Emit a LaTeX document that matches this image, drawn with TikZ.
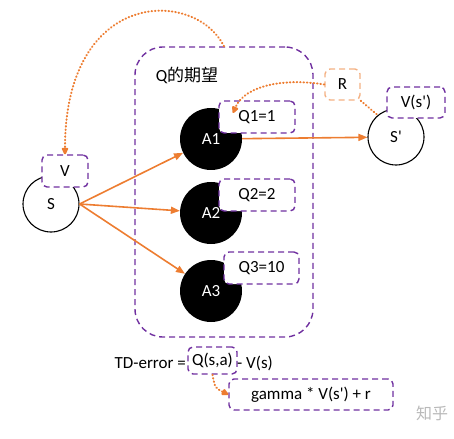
\documentclass[tikz,border=0pt]{standalone}
\usepackage{fontspec}
\setmainfont{Carlito}
\newfontfamily\cjk{Noto Sans CJK SC}
\usetikzlibrary{arrows.meta}
\definecolor{myorange}{HTML}{ED7D31}
\definecolor{mypurple}{HTML}{7030A0}
\definecolor{mypeach}{HTML}{F4B183}
\begin{document}
\begin{tikzpicture}[x=1pt,y=-1pt,
  font=\fontsize{17}{20}\selectfont,
  pbox/.style={draw=mypurple, line width=1.4pt, dash pattern=on 6pt off 4pt, rounded corners=5pt, fill=white, inner sep=0pt},
  act/.style={circle, fill=black, text=white, minimum size=62pt, inner sep=0pt},
  st/.style={circle, draw=black, line width=1.1pt, minimum size=56pt, inner sep=0pt},
  oarr/.style={draw=myorange, line width=1.6pt, -{Triangle[length=9pt,width=7pt]}},
  odot/.style={draw=myorange, line width=2pt, dash pattern=on 0.6pt off 2.8pt, line cap=round},
  dtip/.style={-{Triangle[length=8pt,width=7pt,round]}},
  txt/.style={inner sep=0pt},
]
\useasboundingbox (0,0) rectangle (454,438);

\node[draw=mypurple, line width=1.4pt, dash pattern=on 6pt off 4pt, rounded corners=28pt, minimum width=178pt, minimum height=290pt] (big) at (224,192) {};
\node[txt] (qlabel) at (187,75) {Q{\cjk 的期望}};

\node[act] (a1) at (211,139) {A1};
\node[act] (a2) at (211,213) {A2};
\node[act] (a3) at (211,291) {A3};
\node[pbox, minimum width=76pt, minimum height=32pt] (q1) at (257,117) {Q1=1};
\node[pbox, minimum width=76pt, minimum height=32pt] (q2) at (257,195) {Q2=2};
\node[pbox, minimum width=75pt, minimum height=32pt] (q3) at (261.5,268) {Q3=10};

\node[st] (s) at (51,204) {S};
\node[pbox, minimum width=46pt, minimum height=32pt] (vbox) at (65,171) {V};
\node[st] (sp) at (396,137) {S\textquotesingle};
\node[pbox, minimum width=58pt, minimum height=31pt] (vsp) at (416,102.5) {V(s\textquotesingle)};
\node[pbox, draw=mypeach, minimum width=35pt, minimum height=31pt] (rbox) at (342.5,84.5) {R};

\draw[oarr] (s.east) -- (a1);
\draw[oarr] (s.east) -- (a2);
\draw[oarr] (s.east) -- (a3);
\draw[oarr] (a1) -- (sp);

\draw[odot, dtip] (big.north) .. controls (195,-12) and (65,-12) .. (vbox.north);
\coordinate (q1tip) at (233,113);
\draw[odot, dtip] (rbox.west) .. controls (285,78) and (245,85) .. (q1tip);
\draw[odot] (rbox.south east) -- (sp.130);

\node[txt, anchor=base east] (td) at (186,368) {TD-error =};
\node[draw=mypurple, line width=1.4pt, dash pattern=on 6pt off 4pt, rounded corners=5pt, inner sep=0pt, minimum width=49pt, minimum height=27pt] (qsa) at (212.5,360.5) {Q(s,a)};
\node[txt, anchor=base west] (vs) at (237,368) {- V(s)};
\node[pbox, minimum width=164pt, minimum height=31pt] (gbox) at (311,394.5) {gamma * V(s\textquotesingle) + r};
\draw[odot, dtip] (qsa.south) .. controls (215,388) .. (gbox.west);

\node[txt, text=gray!55, font=\cjk\fontsize{16}{16}\selectfont] (wm) at (432,413) {知乎};
\end{tikzpicture}
\end{document}
